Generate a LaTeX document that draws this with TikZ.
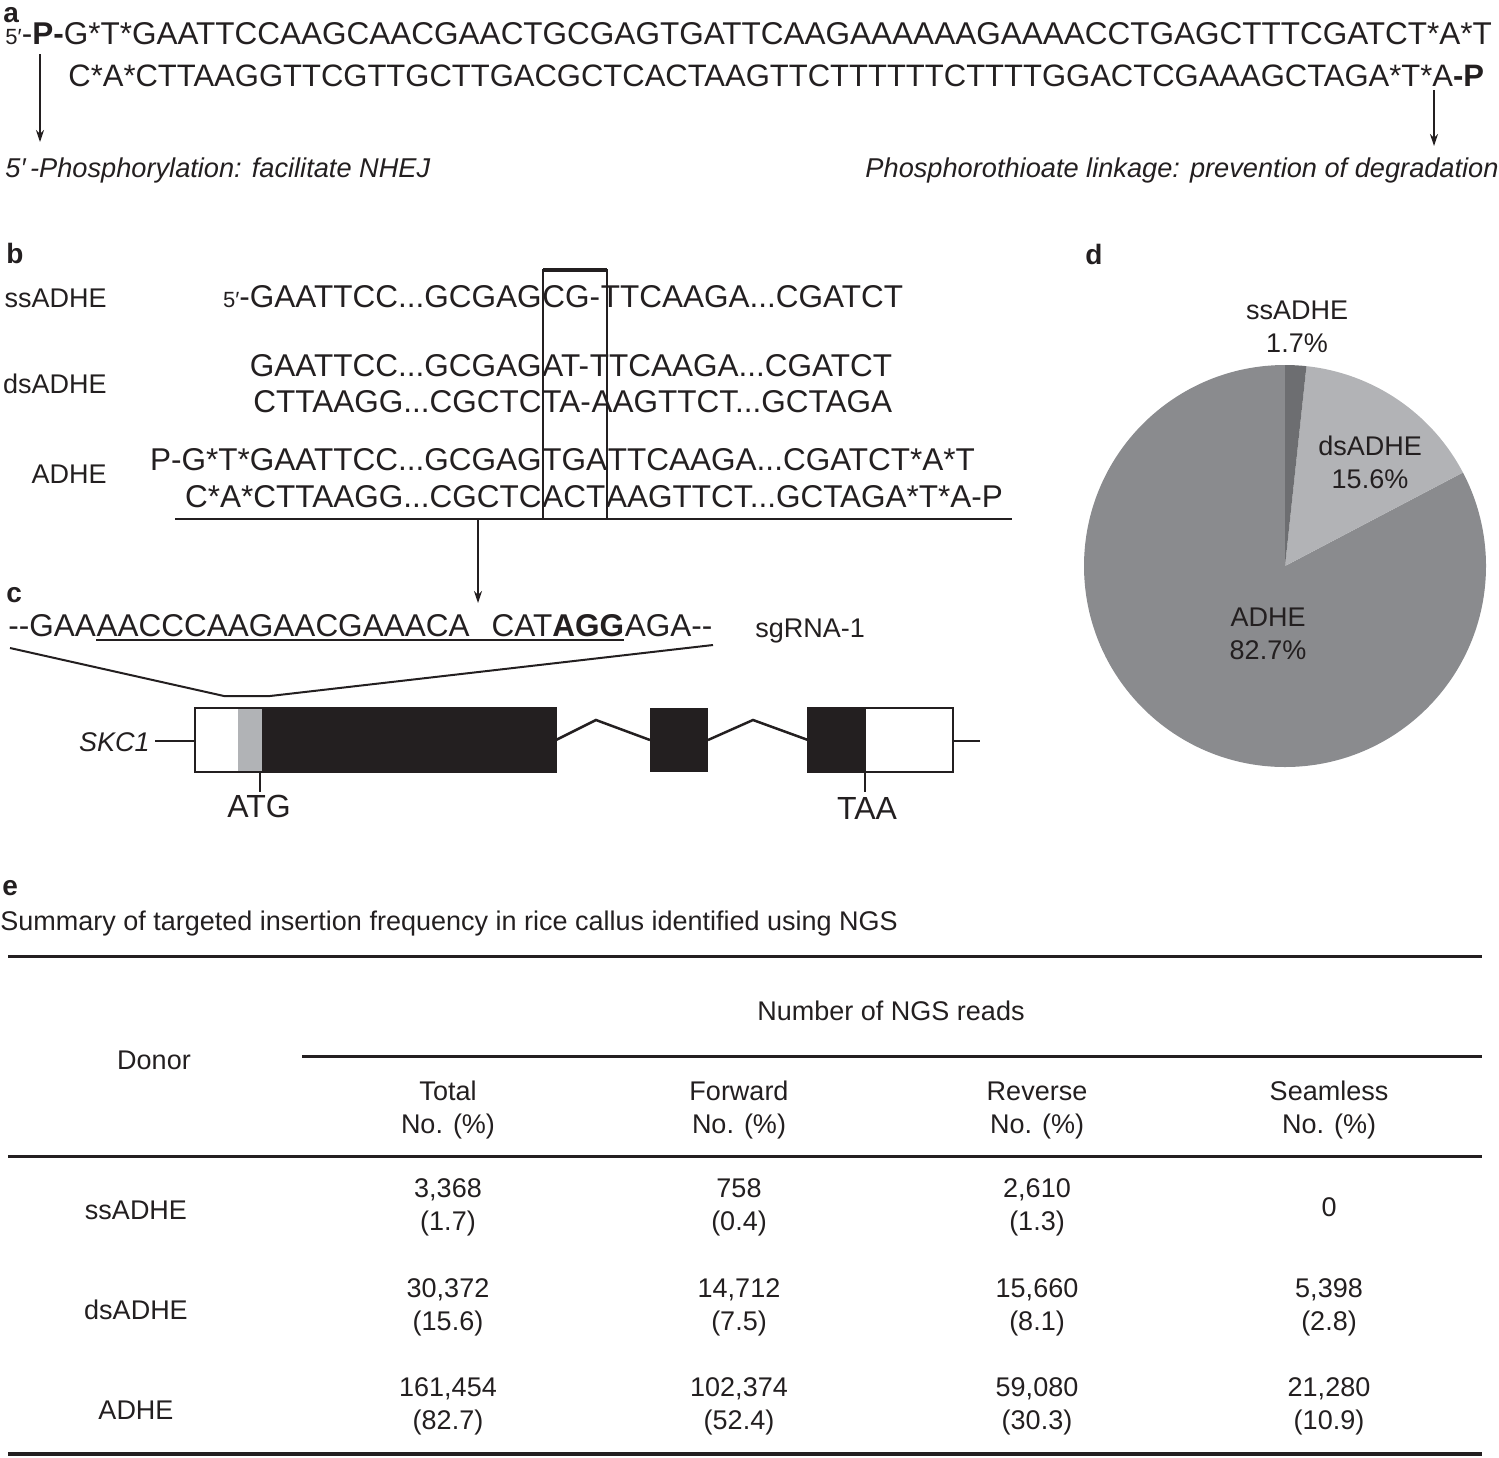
\documentclass[tikz,border=0pt]{standalone}
\usepackage{fontspec}
\setmainfont{Liberation Sans}
\usetikzlibrary{arrows.meta,calc,positioning}
\definecolor{pieDark}{HTML}{6D6E71}
\definecolor{pieLight}{HTML}{B2B3B6}
\definecolor{pieMid}{HTML}{8A8B8E}
\definecolor{atgGrey}{HTML}{B1B3B6}
\definecolor{ink}{HTML}{231F20}
\tikzset{
  seq/.style={inner sep=0pt,text=ink,font=\fontsize{15.75}{19}\selectfont},
  lab/.style={inner sep=0pt,text=ink,font=\fontsize{13.5}{16.5}\selectfont},
  note/.style={inner sep=0pt,text=ink,font=\fontsize{13.6}{16}\selectfont\itshape},
  panel/.style={inner sep=0pt,anchor=base west,text=ink,font=\fontsize{14}{16}\selectfont\bfseries},
  rule/.style={draw=ink,line width=1.5pt},
  gene/.style={draw=ink,line width=1.25pt},
}
\newcommand{\fiveprime}{{\fontsize{11}{12}\selectfont 5′}}

\begin{document}
\begin{tikzpicture}[x=0.5pt,y=-0.5pt,>={Stealth[length=6pt,width=4pt]}]
  \useasboundingbox (0,0) rectangle (1499,1457);

  % a
  \node[panel] (la) at (3,22) {a};
  \node[seq,anchor=base west] (top) at (5,44)
    {\fiveprime-\textbf{P-}G*T*GAATTCCAAGCAACGAACTGCGAGTGATTCAAGAAAAAAGAAAACCTGAGCTTTCGATCT*A*T};
  \node[seq,anchor=base west,font=\fontsize{15.5}{19}\selectfont] (bot) at (68,86)
    {C*A*CTTAAGGTTCGTTGCTTGACGCTCACTAAGTTCTTTTTTCTTTTGGACTCGAAAGCTAGA*T*A\textbf{-P}};
  \node[note,anchor=base west] (phos) at (5,177) {5′\,-Phosphorylation: facilitate NHEJ};
  \node[note,anchor=base east] (thio) at (1499,177) {Phosphorothioate linkage: prevention of degradation};
  \coordinate (pS) at (40,54);
  \coordinate (pE) at (40,142);
  \coordinate (tS) at (1434,90);
  \coordinate (tE) at (1434,146);
  \draw[->,ink,line width=0.75pt] (pS) -- (pE);
  \draw[->,ink,line width=0.75pt] (tS) -- (tE);

  % b
  \node[panel] (lb) at (6,263) {b};
  \node[lab,anchor=east] (nss) at (107,298) {ssADHE};
  \node[lab,anchor=east] (nds) at (107,384) {dsADHE};
  \node[lab,anchor=east] (nad) at (107,474) {ADHE};

  \node[seq,anchor=base east] (ssL) at (542,307) {\fiveprime-GAATTCC...GCGAG};
  \node[seq,anchor=base west] (ssM) at (ssL.base east) {CG-};
  \node[seq,anchor=base west] (ssR) at (ssM.base east) {TTCAAGA...CGATCT};

  \node[seq,anchor=base east] (dsL) at (542,376) {GAATTCC...GCGAG};
  \node[seq,anchor=base west] (dsM) at (dsL.base east) {AT-};
  \node[seq,anchor=base west] (dsR) at (dsM.base east) {TTCAAGA...CGATCT};
  \node[seq,anchor=base east] (dcL) at (542,412) {CTTAAGG...CGCTC};
  \node[seq,anchor=base west] (dcM) at (dcL.base east) {TA-};
  \node[seq,anchor=base west] (dcR) at (dcM.base east) {AAGTTCT...GCTAGA};

  \node[seq,anchor=base east] (adL) at (542,470) {P-G*T*GAATTCC...GCGAG};
  \node[seq,anchor=base west] (adM) at (adL.base east) {TGA};
  \node[seq,anchor=base west] (adR) at (adM.base east) {TTCAAGA...CGATCT*A*T};
  \node[seq,anchor=base east] (acL) at (542,507) {C*A*CTTAAGG...CGCTC};
  \node[seq,anchor=base west] (acM) at (acL.base east) {ACT};
  \node[seq,anchor=base west] (acR) at (acM.base east) {AAGTTCT...GCTAGA*T*A-P};

  \draw[ink,line width=1.1pt] (543,270) rectangle (607,519);
  \draw[ink,line width=1.6pt] (543,270) -- (607,270);
  \coordinate (ulL) at (175,519);
  \coordinate (ulR) at (1012,519);
  \coordinate (cut) at (478,519);
  \coordinate (cutE) at (478,603);
  \draw[ink,line width=0.8pt] (ulL) -- (ulR);
  \draw[->,ink,line width=0.75pt] (cut) -- (cutE);

  % c
  \node[panel] (lc) at (6,602) {c};
  \node[seq,anchor=base west] (c1) at (8,636) {-{}-GAA};
  \node[seq,anchor=base west] (c2) at (c1.base east) {AACCCAAGAACGAAACA\hspace{0.7em}CAT\textbf{AGG}};
  \node[seq,anchor=base west] (c3) at (c2.base east) {AGA-{}-};
  \draw[ink,line width=0.8pt] ($(c2.base west)+(0,4)$) -- ($(c2.base east)+(0,4)$);
  \node[lab,anchor=base west] (sg) at (755,637) {sgRNA-1};
  \coordinate (z1) at (10,648);
  \coordinate (z2) at (224,696);
  \coordinate (z3) at (270,696);
  \coordinate (z4) at (713,645);
  \draw[ink,line width=1pt] (z1) -- (z2) -- (z3) -- (z4);

  \node[lab,anchor=east,font=\fontsize{13.5}{16}\selectfont\itshape] (skc) at (150,742) {SKC1};
  \draw[gene] (155,741) -- (195,741);
  \fill[atgGrey] (238,708) rectangle (262,772);
  \fill[ink] (262,708) rectangle (556,772);
  \draw[gene] (195,708) rectangle (556,772);
  \draw[gene] (556,740) -- (596,720) -- (650,740);
  \fill[ink] (650,708) rectangle (708,772);
  \draw[gene] (708,740) -- (753,720) -- (808,740);
  \fill[ink] (808,708) rectangle (866,772);
  \draw[gene] (808,708) rectangle (953,772);
  \draw[gene] (953,741) -- (980,741);
  \draw[gene] (260,772) -- (260,792);
  \draw[gene] (865,772) -- (865,792);
  \node[seq,font=\fontsize{16}{19}\selectfont] (atg) at (259,806) {ATG};
  \node[seq,font=\fontsize{16}{19}\selectfont] (taa) at (867,808) {TAA};

  % d
  \node[panel] (ld) at (1085,264) {d};
  \begin{scope}[shift={(1285,566)},yscale=-1]
    \foreach \a/\b/\c in {90/387.72/pieMid,27.72/83.88/pieLight,83.88/90/pieDark}
      \fill[\c] (0,0) -- (\a:201) arc[start angle=\a,end angle=\b,radius=201] -- cycle;
  \end{scope}
  \node[lab,align=center] (pss) at (1297,327) {ssADHE\\1.7\%};
  \node[lab,align=center] (pds) at (1370,462) {dsADHE\\15.6\%};
  \node[lab,align=center] (pad) at (1268,634) {ADHE\\82.7\%};

  % e
  \node[panel] (le) at (2,895) {e};
  \node[lab,anchor=base west] (ttl) at (0,930)
    {Summary of targeted insertion frequency in rice callus identified using NGS};
  \draw[rule] (8,956) -- (1482,956);
  \draw[rule] (302,1056) -- (1482,1056);
  \draw[rule] (8,1156) -- (1482,1156);
  \draw[rule,line width=2pt] (8,1454) -- (1482,1454);
  \node[lab] (reads) at (891,1011) {Number of NGS reads};
  \node[lab] (donor) at (154,1060) {Donor};
  \foreach \x/\h [count=\i] in {448/Total,739/Forward,1037/Reverse,1329/Seamless}
    \node[lab,align=center] (hd\i) at (\x,1110) {\h\\No. (\%)};
  \foreach \y/\d [count=\i] in {1210/ssADHE,1310/dsADHE,1410/ADHE}
    \node[lab] (row\i) at (136,\y) {\d};
  \foreach \x/\y/\v [count=\i] in {448/1207/{3,368\\(1.7)},739/1207/{758\\(0.4)},1037/1207/{2,610\\(1.3)},1329/1207/{0},
      448/1307/{30,372\\(15.6)},739/1307/{14,712\\(7.5)},1037/1307/{15,660\\(8.1)},1329/1307/{5,398\\(2.8)},
      448/1406/{161,454\\(82.7)},739/1406/{102,374\\(52.4)},1037/1406/{59,080\\(30.3)},1329/1406/{21,280\\(10.9)}}
    \node[lab,align=center] (cell\i) at (\x,\y) {\v};
\end{tikzpicture}
\end{document}
